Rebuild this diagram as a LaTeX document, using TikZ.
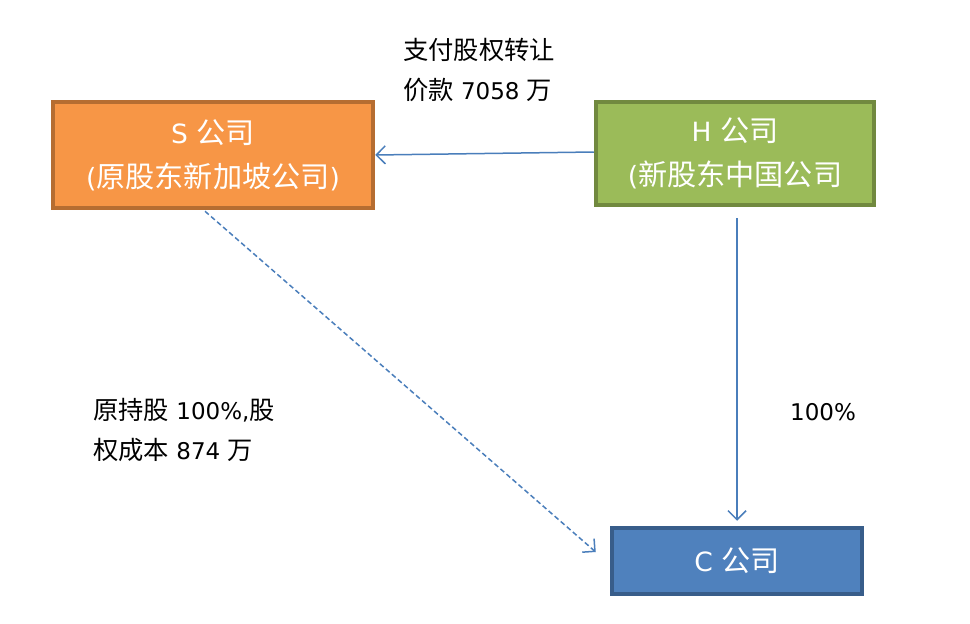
\documentclass[tikz,border=0pt]{standalone}
\usepackage{fontspec}
\setmainfont{DejaVu Sans}
\newfontfamily\cjk[Scale=1.1]{Noto Sans CJK SC}
\usetikzlibrary{arrows.meta}
\definecolor{orfill}{HTML}{F79646}
\definecolor{ordraw}{HTML}{B66D31}
\definecolor{grfill}{HTML}{9BBB59}
\definecolor{grdraw}{HTML}{71893F}
\definecolor{blfill}{HTML}{4F81BD}
\definecolor{bldraw}{HTML}{385D8A}
\definecolor{linkblue}{HTML}{4A7EBB}
\begin{document}
\begin{tikzpicture}[x=1pt,y=-1pt,
  box/.style={draw, line width=4.5pt, inner sep=0pt, align=center, text=white,
    font=\fontsize{26.5}{44}\selectfont},
  lbl/.style={anchor=west, align=left, inner sep=0pt, text=black,
    font=\fontsize{23}{40}\selectfont},
  link/.style={draw=linkblue, line width=1.5pt,
    -{Straight Barb[length=9pt,width=18pt]}}]
\path[use as bounding box, fill=white] (0,0) rectangle (970,624);
\node[box, fill=orfill, draw=ordraw, minimum width=320pt, minimum height=106pt] (S) at (213,155)
  {S {\cjk 公司}\\({\cjk 原股东新加坡公司})};
\node[box, fill=grfill, draw=grdraw, minimum width=278pt, minimum height=103pt] (H) at (735,153.5)
  {H {\cjk 公司}\\({\cjk 新股东中国公司}};
\node[box, fill=blfill, draw=bldraw, minimum width=250pt, minimum height=66pt] (C) at (737,561)
  {C {\cjk 公司}};
\node[lbl] (pay) at (403,70) {{\cjk 支付股权转让}\\{\cjk 价款} 7058 {\cjk 万}};
\node[lbl] (orig) at (93,430) {{\cjk 原持股} 100\%,{\cjk 股}\\{\cjk 权成本} 874 {\cjk 万}};
\node[lbl] (pct) at (790,412) {100\%};
\draw[link] ([yshift=1.5pt]H.west) -- (S.east);
\draw[link, shorten <=11pt, shorten >=5pt] ([xshift=2pt]H.south) -- (C.north);
\draw[link, dash pattern=on 5pt off 3pt] ([xshift=-8pt,yshift=-1pt]S.south) -- ([xshift=-14pt,yshift=9pt]C.west);
\end{tikzpicture}
\end{document}
